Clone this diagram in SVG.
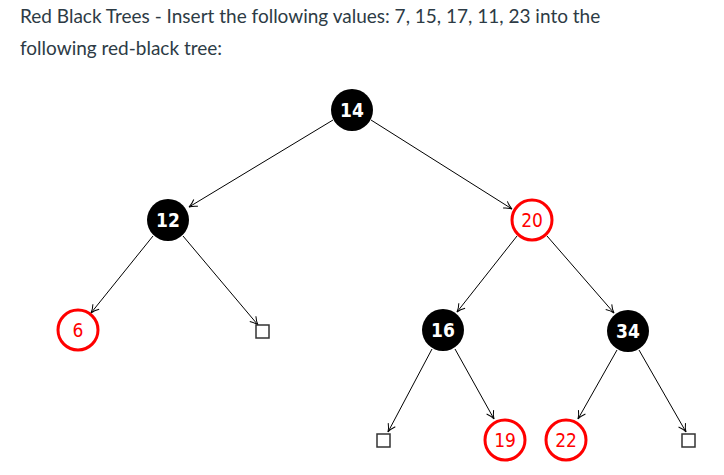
<svg xmlns="http://www.w3.org/2000/svg" width="724" height="475" viewBox="0 0 724 475">
<style>
.t{font-family:Lato,"Liberation Sans",sans-serif;font-size:19px;fill:#2d3b45}
.b circle{fill:#000}
.b text{fill:#fff;font-family:"DejaVu Sans Condensed","Liberation Sans",sans-serif;font-weight:bold;font-size:19px;text-anchor:middle}
.r circle{fill:#fff;stroke:#f00;stroke-width:3}
.r text{fill:#f00;font-family:"DejaVu Sans Condensed","Liberation Sans",sans-serif;font-size:19px;text-anchor:middle}
.sq{fill:#fff;stroke:#333;stroke-width:1.5}
#edges line{stroke:#000;stroke-width:1;marker-end:url(#a)}
</style>
<defs><marker id="a" markerWidth="10" markerHeight="10" refX="9" refY="5" orient="auto" markerUnits="userSpaceOnUse"><path d="M1,1 Q5,4 9,5 Q5,6 1,9" fill="none" stroke="#000" stroke-width="1"/></marker></defs>
<rect width="724" height="475" fill="#fff"/>
<text class="t" x="20" y="23">Red Black Trees - Insert the following values: 7, 15, 17, 11, 23 into the</text>
<text class="t" x="20" y="55">following red-black tree:</text>
<g id="edges">
<line x1="333" y1="120" x2="189" y2="207"/>
<line x1="371" y1="120" x2="512" y2="209"/>
<line x1="153" y1="236" x2="91" y2="313"/>
<line x1="183" y1="236" x2="258" y2="325"/>
<line x1="517" y1="236" x2="457" y2="312"/>
<line x1="547" y1="236" x2="614" y2="313"/>
<line x1="432" y1="349" x2="388" y2="432"/>
<line x1="455" y1="349" x2="494" y2="419"/>
<line x1="617" y1="350" x2="578" y2="419"/>
<line x1="639" y1="350" x2="686" y2="432"/>
</g>
<g id="n14" class="b"><circle cx="352" cy="110" r="21"/><text x="352" y="117">14</text></g>
<g id="n12" class="b"><circle cx="168" cy="220" r="21"/><text x="168" y="227">12</text></g>
<g id="n20" class="r"><circle cx="532" cy="220" r="20"/><text x="532" y="227">20</text></g>
<g id="n6" class="r"><circle cx="78" cy="330" r="20"/><text x="78" y="337">6</text></g>
<g id="nil1"><rect class="sq" x="256" y="325" width="13" height="13"/></g>
<g id="n16" class="b"><circle cx="443" cy="330" r="21"/><text x="443" y="337">16</text></g>
<g id="n34" class="b"><circle cx="628" cy="331" r="21"/><text x="628" y="338">34</text></g>
<g id="nil2"><rect class="sq" x="377" y="434" width="13" height="13"/></g>
<g id="n19" class="r"><circle cx="505" cy="440" r="20"/><text x="505" y="447">19</text></g>
<g id="n22" class="r"><circle cx="566" cy="440" r="20"/><text x="566" y="447">22</text></g>
<g id="nil3"><rect class="sq" x="682" y="434" width="13" height="13"/></g>
</svg>
